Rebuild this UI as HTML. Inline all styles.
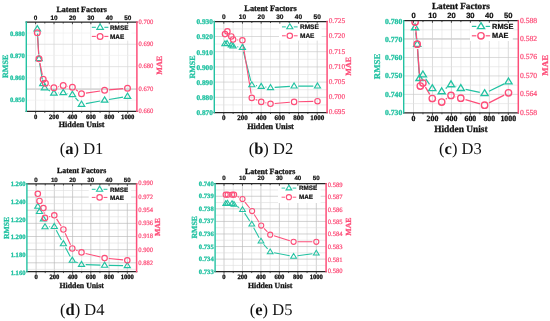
<!DOCTYPE html>
<html lang="en"><head><meta charset="utf-8"><title>Figure</title>
<style>
html,body{margin:0;padding:0;background:#fff;}
body{width:550px;height:321px;overflow:hidden;}
svg{display:block;}
text{text-rendering:geometricPrecision;}
.ser{font-family:"Liberation Serif","Times New Roman",serif;font-weight:bold;stroke-width:0.28;}
.san{font-family:"Liberation Sans",Arial,sans-serif;font-weight:bold;fill:#111;stroke:#111;stroke-width:0.22;}
.serr{font-family:"Liberation Serif","Times New Roman",serif;stroke-width:0.22;}
.cap{font-family:"Liberation Serif","Times New Roman",serif;fill:#111;}
.gM{stroke:#c8c8c8;stroke-width:0.65;}
.gMd{stroke:#b8b8b8;stroke-width:0.65;}
.gmd{stroke:#dcdcdc;stroke-width:0.6;}
.gm{stroke:#e0e0e0;stroke-width:0.6;}
.gMa{stroke:#d6d6d6;stroke-width:0.7;}
.gma{stroke:#efefef;stroke-width:0.6;}
</style></head><body>
<svg width="550" height="321" viewBox="0 0 550 321">
<rect width="550" height="321" fill="#fff"/>
<g id="chart-a">
<clipPath id="clip-a"><rect x="26.3" y="22" width="110.6" height="89.4"/></clipPath>
<line x1="35.6" y1="22" x2="35.6" y2="111.4" class="gMa"/>
<line x1="44.81" y1="22" x2="44.81" y2="111.4" class="gma"/>
<line x1="54.02" y1="22" x2="54.02" y2="111.4" class="gMa"/>
<line x1="63.23" y1="22" x2="63.23" y2="111.4" class="gma"/>
<line x1="72.44" y1="22" x2="72.44" y2="111.4" class="gMa"/>
<line x1="81.65" y1="22" x2="81.65" y2="111.4" class="gma"/>
<line x1="90.86" y1="22" x2="90.86" y2="111.4" class="gMa"/>
<line x1="100.07" y1="22" x2="100.07" y2="111.4" class="gma"/>
<line x1="109.28" y1="22" x2="109.28" y2="111.4" class="gMa"/>
<line x1="118.49" y1="22" x2="118.49" y2="111.4" class="gma"/>
<line x1="127.7" y1="22" x2="127.7" y2="111.4" class="gMa"/>
<line x1="26.3" y1="33.09" x2="136.9" y2="33.09" class="gma"/>
<line x1="26.3" y1="44.27" x2="136.9" y2="44.27" class="gMa"/>
<line x1="26.3" y1="55.46" x2="136.9" y2="55.46" class="gma"/>
<line x1="26.3" y1="66.65" x2="136.9" y2="66.65" class="gMa"/>
<line x1="26.3" y1="77.84" x2="136.9" y2="77.84" class="gma"/>
<line x1="26.3" y1="89.03" x2="136.9" y2="89.03" class="gMa"/>
<line x1="26.3" y1="100.21" x2="136.9" y2="100.21" class="gma"/>
<line x1="26.3" y1="89.1" x2="136.9" y2="89.1" stroke="#d2d2d2" stroke-width="1.1"/>
<rect x="91.5" y="22" width="39.9" height="18.6" fill="#fff"/>
<line x1="37.55" y1="33.44" x2="38.75" y2="54.26" stroke="#22c2a2" stroke-width="1.17" clip-path="url(#clip-a)"/>
<line x1="39.69" y1="63.1" x2="42.21" y2="79.2" stroke="#22c2a2" stroke-width="1.17" clip-path="url(#clip-a)"/>
<line x1="48.45" y1="90.04" x2="50.05" y2="90.96" stroke="#22c2a2" stroke-width="1.17" clip-path="url(#clip-a)"/>
<line x1="58.35" y1="92.96" x2="58.75" y2="92.94" stroke="#22c2a2" stroke-width="1.17" clip-path="url(#clip-a)"/>
<line x1="67.56" y1="93.6" x2="68.04" y2="93.7" stroke="#22c2a2" stroke-width="1.17" clip-path="url(#clip-a)"/>
<line x1="75.43" y1="97.86" x2="78.47" y2="101.14" stroke="#22c2a2" stroke-width="1.17" clip-path="url(#clip-a)"/>
<line x1="85.88" y1="103.6" x2="100.22" y2="101" stroke="#22c2a2" stroke-width="1.17" clip-path="url(#clip-a)"/>
<line x1="108.99" y1="99.47" x2="123.11" y2="97.13" stroke="#22c2a2" stroke-width="1.17" clip-path="url(#clip-a)"/>
<line x1="37.59" y1="37.24" x2="38.71" y2="54.26" stroke="#fd4e79" stroke-width="1.17" clip-path="url(#clip-a)"/>
<line x1="39.89" y1="63.06" x2="42.31" y2="74.94" stroke="#fd4e79" stroke-width="1.17" clip-path="url(#clip-a)"/>
<line x1="49.33" y1="85.38" x2="49.97" y2="85.72" stroke="#fd4e79" stroke-width="1.17" clip-path="url(#clip-a)"/>
<line x1="58.23" y1="86.78" x2="58.87" y2="86.62" stroke="#fd4e79" stroke-width="1.17" clip-path="url(#clip-a)"/>
<line x1="67.59" y1="86.36" x2="68.01" y2="86.44" stroke="#fd4e79" stroke-width="1.17" clip-path="url(#clip-a)"/>
<line x1="76" y1="89.81" x2="77.9" y2="91.19" stroke="#fd4e79" stroke-width="1.17" clip-path="url(#clip-a)"/>
<line x1="85.9" y1="93.13" x2="100.2" y2="90.97" stroke="#fd4e79" stroke-width="1.17" clip-path="url(#clip-a)"/>
<line x1="109.03" y1="89.89" x2="123.07" y2="88.61" stroke="#fd4e79" stroke-width="1.17" clip-path="url(#clip-a)"/>
<g clip-path="url(#clip-a)" fill="none">
<path d="M37.3 25.66L40.55 31.01L34.05 31.01Z" stroke="#22c2a2" stroke-width="1.19"/>
<path d="M39 55.36L42.25 60.71L35.75 60.71Z" stroke="#22c2a2" stroke-width="1.19"/>
<path d="M42.9 80.26L46.15 85.61L39.65 85.61Z" stroke="#22c2a2" stroke-width="1.19"/>
<path d="M44.6 84.46L47.85 89.81L41.35 89.81Z" stroke="#22c2a2" stroke-width="1.19"/>
<path d="M53.9 89.86L57.15 95.21L50.65 95.21Z" stroke="#22c2a2" stroke-width="1.19"/>
<path d="M63.2 89.36L66.45 94.71L59.95 94.71Z" stroke="#22c2a2" stroke-width="1.19"/>
<path d="M72.4 91.26L75.65 96.61L69.15 96.61Z" stroke="#22c2a2" stroke-width="1.19"/>
<path d="M81.5 101.06L84.75 106.41L78.25 106.41Z" stroke="#22c2a2" stroke-width="1.19"/>
<path d="M104.6 96.86L107.85 102.21L101.35 102.21Z" stroke="#22c2a2" stroke-width="1.19"/>
<path d="M127.5 93.06L130.75 98.41L124.25 98.41Z" stroke="#22c2a2" stroke-width="1.19"/>
<circle cx="37.3" cy="32.8" r="2.88" stroke="#fd4e79" stroke-width="1.25"/>
<circle cx="39" cy="58.7" r="2.88" stroke="#fd4e79" stroke-width="1.25"/>
<circle cx="43.2" cy="79.3" r="2.88" stroke="#fd4e79" stroke-width="1.25"/>
<circle cx="45.4" cy="83.3" r="2.88" stroke="#fd4e79" stroke-width="1.25"/>
<circle cx="53.9" cy="87.8" r="2.88" stroke="#fd4e79" stroke-width="1.25"/>
<circle cx="63.2" cy="85.6" r="2.88" stroke="#fd4e79" stroke-width="1.25"/>
<circle cx="72.4" cy="87.2" r="2.88" stroke="#fd4e79" stroke-width="1.25"/>
<circle cx="81.5" cy="93.8" r="2.88" stroke="#fd4e79" stroke-width="1.25"/>
<circle cx="104.6" cy="90.3" r="2.88" stroke="#fd4e79" stroke-width="1.25"/>
<circle cx="127.5" cy="88.2" r="2.88" stroke="#fd4e79" stroke-width="1.25"/>
</g>
<line x1="35.6" y1="22" x2="35.6" y2="24.2" stroke="#222" stroke-width="0.8"/>
<line x1="35.6" y1="111.4" x2="35.6" y2="113.6" stroke="#222" stroke-width="0.8"/>
<line x1="44.81" y1="22" x2="44.81" y2="23.5" stroke="#222" stroke-width="0.8"/>
<line x1="44.81" y1="111.4" x2="44.81" y2="112.9" stroke="#222" stroke-width="0.8"/>
<line x1="54.02" y1="22" x2="54.02" y2="24.2" stroke="#222" stroke-width="0.8"/>
<line x1="54.02" y1="111.4" x2="54.02" y2="113.6" stroke="#222" stroke-width="0.8"/>
<line x1="63.23" y1="22" x2="63.23" y2="23.5" stroke="#222" stroke-width="0.8"/>
<line x1="63.23" y1="111.4" x2="63.23" y2="112.9" stroke="#222" stroke-width="0.8"/>
<line x1="72.44" y1="22" x2="72.44" y2="24.2" stroke="#222" stroke-width="0.8"/>
<line x1="72.44" y1="111.4" x2="72.44" y2="113.6" stroke="#222" stroke-width="0.8"/>
<line x1="81.65" y1="22" x2="81.65" y2="23.5" stroke="#222" stroke-width="0.8"/>
<line x1="81.65" y1="111.4" x2="81.65" y2="112.9" stroke="#222" stroke-width="0.8"/>
<line x1="90.86" y1="22" x2="90.86" y2="24.2" stroke="#222" stroke-width="0.8"/>
<line x1="90.86" y1="111.4" x2="90.86" y2="113.6" stroke="#222" stroke-width="0.8"/>
<line x1="100.07" y1="22" x2="100.07" y2="23.5" stroke="#222" stroke-width="0.8"/>
<line x1="100.07" y1="111.4" x2="100.07" y2="112.9" stroke="#222" stroke-width="0.8"/>
<line x1="109.28" y1="22" x2="109.28" y2="24.2" stroke="#222" stroke-width="0.8"/>
<line x1="109.28" y1="111.4" x2="109.28" y2="113.6" stroke="#222" stroke-width="0.8"/>
<line x1="118.49" y1="22" x2="118.49" y2="23.5" stroke="#222" stroke-width="0.8"/>
<line x1="118.49" y1="111.4" x2="118.49" y2="112.9" stroke="#222" stroke-width="0.8"/>
<line x1="127.7" y1="22" x2="127.7" y2="24.2" stroke="#222" stroke-width="0.8"/>
<line x1="127.7" y1="111.4" x2="127.7" y2="113.6" stroke="#222" stroke-width="0.8"/>
<line x1="25.6" y1="22" x2="137.6" y2="22" stroke="#262626" stroke-width="1.25"/>
<line x1="25.6" y1="111.4" x2="137.6" y2="111.4" stroke="#262626" stroke-width="1.25"/>
<line x1="26.3" y1="21.3" x2="26.3" y2="112.1" stroke="#22c2a2" stroke-width="1.4"/>
<line x1="136.9" y1="21.3" x2="136.9" y2="112.1" stroke="#fd4e79" stroke-width="1.5"/>
<text x="24.9" y="36.01" class="ser" text-anchor="end" font-size="6.6" fill="#22c2a2" stroke="#22c2a2">0.880</text>
<text x="24.9" y="58.11" class="ser" text-anchor="end" font-size="6.6" fill="#22c2a2" stroke="#22c2a2">0.870</text>
<text x="24.9" y="80.01" class="ser" text-anchor="end" font-size="6.6" fill="#22c2a2" stroke="#22c2a2">0.860</text>
<text x="24.9" y="102.11" class="ser" text-anchor="end" font-size="6.6" fill="#22c2a2" stroke="#22c2a2">0.850</text>
<text x="138.5" y="23.71" class="serr" font-size="6.6" fill="#fd4e79" stroke="#fd4e79">0.700</text>
<text x="138.5" y="45.91" class="serr" font-size="6.6" fill="#fd4e79" stroke="#fd4e79">0.690</text>
<text x="138.5" y="68.21" class="serr" font-size="6.6" fill="#fd4e79" stroke="#fd4e79">0.680</text>
<text x="138.5" y="90.91" class="serr" font-size="6.6" fill="#fd4e79" stroke="#fd4e79">0.670</text>
<text x="138.5" y="113.21" class="serr" font-size="6.6" fill="#fd4e79" stroke="#fd4e79">0.660</text>
<text x="35.6" y="19.8" class="san" text-anchor="middle" font-size="6.4">0</text>
<text x="54.02" y="19.8" class="san" text-anchor="middle" font-size="6.4">10</text>
<text x="72.44" y="19.8" class="san" text-anchor="middle" font-size="6.4">20</text>
<text x="90.86" y="19.8" class="san" text-anchor="middle" font-size="6.4">30</text>
<text x="109.28" y="19.8" class="san" text-anchor="middle" font-size="6.4">40</text>
<text x="127.7" y="19.8" class="san" text-anchor="middle" font-size="6.4">50</text>
<text x="35.6" y="118.81" class="ser" text-anchor="middle" font-size="6.6" fill="#111" stroke="#111">0</text>
<text x="54.02" y="118.81" class="ser" text-anchor="middle" font-size="6.6" fill="#111" stroke="#111">200</text>
<text x="72.44" y="118.81" class="ser" text-anchor="middle" font-size="6.6" fill="#111" stroke="#111">400</text>
<text x="90.86" y="118.81" class="ser" text-anchor="middle" font-size="6.6" fill="#111" stroke="#111">600</text>
<text x="109.28" y="118.81" class="ser" text-anchor="middle" font-size="6.6" fill="#111" stroke="#111">800</text>
<text x="127.7" y="118.81" class="ser" text-anchor="middle" font-size="6.6" fill="#111" stroke="#111">1000</text>
<text x="81.65" y="12.38" class="ser" text-anchor="middle" font-size="8.0" fill="#111" stroke="#111">Latent Factors</text>
<text x="81.65" y="126.98" class="ser" text-anchor="middle" font-size="8.0" fill="#111" stroke="#111">Hidden Unist</text>
<text transform="translate(5.2 66.3) rotate(-90)" y="2.71" class="ser" text-anchor="middle" font-size="8.1" fill="#22c2a2" stroke="#22c2a2">RMSE</text>
<text transform="translate(159.4 65.3) rotate(-90)" y="2.71" class="ser" text-anchor="middle" font-size="8.1" fill="#fd4e79" stroke="#fd4e79">MAE</text>
<line x1="91.83" y1="27.3" x2="95.86" y2="27.3" stroke="#22c2a2" stroke-width="1.06"/>
<line x1="104.34" y1="27.3" x2="108.37" y2="27.3" stroke="#22c2a2" stroke-width="1.06"/>
<line x1="91.83" y1="36.4" x2="95.86" y2="36.4" stroke="#fd4e79" stroke-width="1.06"/>
<line x1="104.34" y1="36.4" x2="108.37" y2="36.4" stroke="#fd4e79" stroke-width="1.06"/>
<path d="M100.1 23.96L103.35 29.31L96.85 29.31Z" fill="none" stroke="#22c2a2" stroke-width="1.19"/>
<circle cx="100.1" cy="36.4" r="2.88" fill="none" stroke="#fd4e79" stroke-width="1.25"/>
<text x="110" y="29.6" class="san" font-size="6.4">RMSE</text>
<text x="110" y="38.7" class="san" font-size="6.4">MAE</text>
<text x="81.6" y="153.72" class="cap" text-anchor="middle" font-size="16.5">(<tspan font-weight="bold">a</tspan>) D1</text>
</g>
<g id="chart-b">
<clipPath id="clip-b"><rect x="214.3" y="21.5" width="112.8" height="91"/></clipPath>
<line x1="223.8" y1="21.5" x2="223.8" y2="112.5" class="gM"/>
<line x1="233.14" y1="21.5" x2="233.14" y2="112.5" class="gm"/>
<line x1="242.48" y1="21.5" x2="242.48" y2="112.5" class="gM"/>
<line x1="251.82" y1="21.5" x2="251.82" y2="112.5" class="gm"/>
<line x1="261.16" y1="21.5" x2="261.16" y2="112.5" class="gM"/>
<line x1="270.5" y1="21.5" x2="270.5" y2="112.5" class="gm"/>
<line x1="279.84" y1="21.5" x2="279.84" y2="112.5" class="gM"/>
<line x1="289.18" y1="21.5" x2="289.18" y2="112.5" class="gm"/>
<line x1="298.52" y1="21.5" x2="298.52" y2="112.5" class="gM"/>
<line x1="307.86" y1="21.5" x2="307.86" y2="112.5" class="gm"/>
<line x1="317.2" y1="21.5" x2="317.2" y2="112.5" class="gM"/>
<line x1="214.3" y1="28.9" x2="327.1" y2="28.9" class="gm"/>
<line x1="214.3" y1="36.5" x2="327.1" y2="36.5" class="gM"/>
<line x1="214.3" y1="44.1" x2="327.1" y2="44.1" class="gm"/>
<line x1="214.3" y1="51.7" x2="327.1" y2="51.7" class="gM"/>
<line x1="214.3" y1="59.3" x2="327.1" y2="59.3" class="gm"/>
<line x1="214.3" y1="66.9" x2="327.1" y2="66.9" class="gM"/>
<line x1="214.3" y1="74.5" x2="327.1" y2="74.5" class="gm"/>
<line x1="214.3" y1="82.1" x2="327.1" y2="82.1" class="gM"/>
<line x1="214.3" y1="89.7" x2="327.1" y2="89.7" class="gm"/>
<line x1="214.3" y1="97.3" x2="327.1" y2="97.3" class="gM"/>
<line x1="214.3" y1="104.9" x2="327.1" y2="104.9" class="gm"/>
<rect x="279" y="21.5" width="42.6" height="19.1" fill="#fff"/>
<line x1="237.25" y1="46.73" x2="238.25" y2="46.87" stroke="#22c2a2" stroke-width="1.1" clip-path="url(#clip-b)"/>
<line x1="243.42" y1="51.57" x2="250.78" y2="80.83" stroke="#22c2a2" stroke-width="1.1" clip-path="url(#clip-b)"/>
<line x1="255.94" y1="85.6" x2="257.06" y2="85.8" stroke="#22c2a2" stroke-width="1.1" clip-path="url(#clip-b)"/>
<line x1="265.37" y1="87.04" x2="266.33" y2="87.16" stroke="#22c2a2" stroke-width="1.1" clip-path="url(#clip-b)"/>
<line x1="274.69" y1="87.42" x2="289.91" y2="86.38" stroke="#22c2a2" stroke-width="1.1" clip-path="url(#clip-b)"/>
<line x1="298.3" y1="86.1" x2="313.3" y2="86.1" stroke="#22c2a2" stroke-width="1.1" clip-path="url(#clip-b)"/>
<line x1="237.28" y1="39.86" x2="238.22" y2="39.94" stroke="#fd4e79" stroke-width="1.1" clip-path="url(#clip-b)"/>
<line x1="243.08" y1="44.45" x2="251.12" y2="93.75" stroke="#fd4e79" stroke-width="1.1" clip-path="url(#clip-b)"/>
<line x1="255.66" y1="99.54" x2="257.34" y2="100.26" stroke="#fd4e79" stroke-width="1.1" clip-path="url(#clip-b)"/>
<line x1="265.32" y1="102.74" x2="266.38" y2="102.96" stroke="#fd4e79" stroke-width="1.1" clip-path="url(#clip-b)"/>
<line x1="274.69" y1="103.46" x2="289.91" y2="102.24" stroke="#fd4e79" stroke-width="1.1" clip-path="url(#clip-b)"/>
<line x1="298.3" y1="101.77" x2="313.3" y2="101.33" stroke="#fd4e79" stroke-width="1.1" clip-path="url(#clip-b)"/>
<g clip-path="url(#clip-b)" fill="none">
<path d="M224.9 40.75L227.97 45.8L221.83 45.8Z" stroke="#22c2a2" stroke-width="1.12"/>
<path d="M227.1 40.45L230.17 45.5L224.03 45.5Z" stroke="#22c2a2" stroke-width="1.12"/>
<path d="M231.3 41.85L234.37 46.9L228.23 46.9Z" stroke="#22c2a2" stroke-width="1.12"/>
<path d="M233.1 42.95L236.17 48L230.03 48Z" stroke="#22c2a2" stroke-width="1.12"/>
<path d="M242.4 44.35L245.47 49.4L239.33 49.4Z" stroke="#22c2a2" stroke-width="1.12"/>
<path d="M251.8 81.75L254.87 86.8L248.73 86.8Z" stroke="#22c2a2" stroke-width="1.12"/>
<path d="M261.2 83.35L264.27 88.4L258.13 88.4Z" stroke="#22c2a2" stroke-width="1.12"/>
<path d="M270.5 84.55L273.57 89.6L267.43 89.6Z" stroke="#22c2a2" stroke-width="1.12"/>
<path d="M294.1 82.95L297.17 88L291.03 88Z" stroke="#22c2a2" stroke-width="1.12"/>
<path d="M317.5 82.95L320.57 88L314.43 88Z" stroke="#22c2a2" stroke-width="1.12"/>
<circle cx="225" cy="34.1" r="2.72" stroke="#fd4e79" stroke-width="1.18"/>
<circle cx="227.4" cy="31.4" r="2.72" stroke="#fd4e79" stroke-width="1.18"/>
<circle cx="231.3" cy="36.5" r="2.72" stroke="#fd4e79" stroke-width="1.18"/>
<circle cx="233.1" cy="39.5" r="2.72" stroke="#fd4e79" stroke-width="1.18"/>
<circle cx="242.4" cy="40.3" r="2.72" stroke="#fd4e79" stroke-width="1.18"/>
<circle cx="251.8" cy="97.9" r="2.72" stroke="#fd4e79" stroke-width="1.18"/>
<circle cx="261.2" cy="101.9" r="2.72" stroke="#fd4e79" stroke-width="1.18"/>
<circle cx="270.5" cy="103.8" r="2.72" stroke="#fd4e79" stroke-width="1.18"/>
<circle cx="294.1" cy="101.9" r="2.72" stroke="#fd4e79" stroke-width="1.18"/>
<circle cx="317.5" cy="101.2" r="2.72" stroke="#fd4e79" stroke-width="1.18"/>
</g>
<line x1="223.8" y1="21.5" x2="223.8" y2="23.7" stroke="#222" stroke-width="0.8"/>
<line x1="223.8" y1="112.5" x2="223.8" y2="114.7" stroke="#222" stroke-width="0.8"/>
<line x1="233.14" y1="21.5" x2="233.14" y2="23" stroke="#222" stroke-width="0.8"/>
<line x1="233.14" y1="112.5" x2="233.14" y2="114" stroke="#222" stroke-width="0.8"/>
<line x1="242.48" y1="21.5" x2="242.48" y2="23.7" stroke="#222" stroke-width="0.8"/>
<line x1="242.48" y1="112.5" x2="242.48" y2="114.7" stroke="#222" stroke-width="0.8"/>
<line x1="251.82" y1="21.5" x2="251.82" y2="23" stroke="#222" stroke-width="0.8"/>
<line x1="251.82" y1="112.5" x2="251.82" y2="114" stroke="#222" stroke-width="0.8"/>
<line x1="261.16" y1="21.5" x2="261.16" y2="23.7" stroke="#222" stroke-width="0.8"/>
<line x1="261.16" y1="112.5" x2="261.16" y2="114.7" stroke="#222" stroke-width="0.8"/>
<line x1="270.5" y1="21.5" x2="270.5" y2="23" stroke="#222" stroke-width="0.8"/>
<line x1="270.5" y1="112.5" x2="270.5" y2="114" stroke="#222" stroke-width="0.8"/>
<line x1="279.84" y1="21.5" x2="279.84" y2="23.7" stroke="#222" stroke-width="0.8"/>
<line x1="279.84" y1="112.5" x2="279.84" y2="114.7" stroke="#222" stroke-width="0.8"/>
<line x1="289.18" y1="21.5" x2="289.18" y2="23" stroke="#222" stroke-width="0.8"/>
<line x1="289.18" y1="112.5" x2="289.18" y2="114" stroke="#222" stroke-width="0.8"/>
<line x1="298.52" y1="21.5" x2="298.52" y2="23.7" stroke="#222" stroke-width="0.8"/>
<line x1="298.52" y1="112.5" x2="298.52" y2="114.7" stroke="#222" stroke-width="0.8"/>
<line x1="307.86" y1="21.5" x2="307.86" y2="23" stroke="#222" stroke-width="0.8"/>
<line x1="307.86" y1="112.5" x2="307.86" y2="114" stroke="#222" stroke-width="0.8"/>
<line x1="317.2" y1="21.5" x2="317.2" y2="23.7" stroke="#222" stroke-width="0.8"/>
<line x1="317.2" y1="112.5" x2="317.2" y2="114.7" stroke="#222" stroke-width="0.8"/>
<line x1="213.6" y1="21.5" x2="327.8" y2="21.5" stroke="#262626" stroke-width="1.25"/>
<line x1="213.6" y1="112.5" x2="327.8" y2="112.5" stroke="#262626" stroke-width="1.25"/>
<line x1="214.3" y1="20.8" x2="214.3" y2="113.2" stroke="#22c2a2" stroke-width="1.4"/>
<line x1="327.1" y1="20.8" x2="327.1" y2="113.2" stroke="#fd4e79" stroke-width="1.5"/>
<text x="212.9" y="24.25" class="ser" text-anchor="end" font-size="7.3" fill="#22c2a2" stroke="#22c2a2">0.930</text>
<text x="212.9" y="39.43" class="ser" text-anchor="end" font-size="7.3" fill="#22c2a2" stroke="#22c2a2">0.920</text>
<text x="212.9" y="54.61" class="ser" text-anchor="end" font-size="7.3" fill="#22c2a2" stroke="#22c2a2">0.910</text>
<text x="212.9" y="69.79" class="ser" text-anchor="end" font-size="7.3" fill="#22c2a2" stroke="#22c2a2">0.900</text>
<text x="212.9" y="84.97" class="ser" text-anchor="end" font-size="7.3" fill="#22c2a2" stroke="#22c2a2">0.890</text>
<text x="212.9" y="100.15" class="ser" text-anchor="end" font-size="7.3" fill="#22c2a2" stroke="#22c2a2">0.880</text>
<text x="212.9" y="115.33" class="ser" text-anchor="end" font-size="7.3" fill="#22c2a2" stroke="#22c2a2">0.870</text>
<text x="328.7" y="23.35" class="serr" font-size="7.3" fill="#fd4e79" stroke="#fd4e79">0.725</text>
<text x="328.7" y="38.45" class="serr" font-size="7.3" fill="#fd4e79" stroke="#fd4e79">0.720</text>
<text x="328.7" y="53.55" class="serr" font-size="7.3" fill="#fd4e79" stroke="#fd4e79">0.715</text>
<text x="328.7" y="68.65" class="serr" font-size="7.3" fill="#fd4e79" stroke="#fd4e79">0.710</text>
<text x="328.7" y="83.75" class="serr" font-size="7.3" fill="#fd4e79" stroke="#fd4e79">0.705</text>
<text x="328.7" y="98.85" class="serr" font-size="7.3" fill="#fd4e79" stroke="#fd4e79">0.700</text>
<text x="328.7" y="113.95" class="serr" font-size="7.3" fill="#fd4e79" stroke="#fd4e79">0.695</text>
<text x="223.8" y="19.38" class="san" text-anchor="middle" font-size="6.6">0</text>
<text x="242.48" y="19.38" class="san" text-anchor="middle" font-size="6.6">10</text>
<text x="261.16" y="19.38" class="san" text-anchor="middle" font-size="6.6">20</text>
<text x="279.84" y="19.38" class="san" text-anchor="middle" font-size="6.6">30</text>
<text x="298.52" y="19.38" class="san" text-anchor="middle" font-size="6.6">40</text>
<text x="317.2" y="19.38" class="san" text-anchor="middle" font-size="6.6">50</text>
<text x="223.8" y="119.94" class="ser" text-anchor="middle" font-size="7.0" fill="#111" stroke="#111">0</text>
<text x="242.48" y="119.94" class="ser" text-anchor="middle" font-size="7.0" fill="#111" stroke="#111">200</text>
<text x="261.16" y="119.94" class="ser" text-anchor="middle" font-size="7.0" fill="#111" stroke="#111">400</text>
<text x="279.84" y="119.94" class="ser" text-anchor="middle" font-size="7.0" fill="#111" stroke="#111">600</text>
<text x="298.52" y="119.94" class="ser" text-anchor="middle" font-size="7.0" fill="#111" stroke="#111">800</text>
<text x="317.2" y="119.94" class="ser" text-anchor="middle" font-size="7.0" fill="#111" stroke="#111">1000</text>
<text x="270.5" y="10.58" class="ser" text-anchor="middle" font-size="8.3" fill="#111" stroke="#111">Latent Factors</text>
<text x="270.5" y="129.25" class="ser" text-anchor="middle" font-size="8.2" fill="#111" stroke="#111">Hidden Unist</text>
<text transform="translate(191.9 67) rotate(-90)" y="2.68" class="ser" text-anchor="middle" font-size="8.0" fill="#22c2a2" stroke="#22c2a2">RMSE</text>
<text transform="translate(348.2 66.3) rotate(-90)" y="2.68" class="ser" text-anchor="middle" font-size="8.0" fill="#fd4e79" stroke="#fd4e79">MAE</text>
<line x1="282" y1="26.9" x2="285.8" y2="26.9" stroke="#22c2a2" stroke-width="1"/>
<line x1="293.8" y1="26.9" x2="297.6" y2="26.9" stroke="#22c2a2" stroke-width="1"/>
<line x1="282" y1="35.8" x2="285.8" y2="35.8" stroke="#fd4e79" stroke-width="1"/>
<line x1="293.8" y1="35.8" x2="297.6" y2="35.8" stroke="#fd4e79" stroke-width="1"/>
<path d="M289.8 23.75L292.87 28.8L286.73 28.8Z" fill="none" stroke="#22c2a2" stroke-width="1.12"/>
<circle cx="289.8" cy="35.8" r="2.72" fill="none" stroke="#fd4e79" stroke-width="1.18"/>
<text x="300" y="29.24" class="san" font-size="6.5">RMSE</text>
<text x="300" y="38.14" class="san" font-size="6.5">MAE</text>
<text x="270.9" y="153.72" class="cap" text-anchor="middle" font-size="16.5">(<tspan font-weight="bold">b</tspan>) D2</text>
</g>
<g id="chart-c">
<clipPath id="clip-c"><rect x="403.7" y="20.6" width="114.6" height="92.2"/></clipPath>
<line x1="413.5" y1="20.6" x2="413.5" y2="112.8" class="gM"/>
<line x1="422.98" y1="20.6" x2="422.98" y2="112.8" class="gm"/>
<line x1="432.46" y1="20.6" x2="432.46" y2="112.8" class="gM"/>
<line x1="441.94" y1="20.6" x2="441.94" y2="112.8" class="gm"/>
<line x1="451.42" y1="20.6" x2="451.42" y2="112.8" class="gM"/>
<line x1="460.9" y1="20.6" x2="460.9" y2="112.8" class="gm"/>
<line x1="470.38" y1="20.6" x2="470.38" y2="112.8" class="gM"/>
<line x1="479.86" y1="20.6" x2="479.86" y2="112.8" class="gm"/>
<line x1="489.34" y1="20.6" x2="489.34" y2="112.8" class="gM"/>
<line x1="498.82" y1="20.6" x2="498.82" y2="112.8" class="gm"/>
<line x1="508.3" y1="20.6" x2="508.3" y2="112.8" class="gM"/>
<line x1="403.7" y1="29.82" x2="518.3" y2="29.82" class="gm"/>
<line x1="403.7" y1="39.04" x2="518.3" y2="39.04" class="gM"/>
<line x1="403.7" y1="48.26" x2="518.3" y2="48.26" class="gm"/>
<line x1="403.7" y1="57.48" x2="518.3" y2="57.48" class="gM"/>
<line x1="403.7" y1="66.7" x2="518.3" y2="66.7" class="gm"/>
<line x1="403.7" y1="75.92" x2="518.3" y2="75.92" class="gM"/>
<line x1="403.7" y1="85.14" x2="518.3" y2="85.14" class="gm"/>
<line x1="403.7" y1="94.36" x2="518.3" y2="94.36" class="gM"/>
<line x1="403.7" y1="103.58" x2="518.3" y2="103.58" class="gm"/>
<line x1="403.7" y1="38.9" x2="518.3" y2="38.9" stroke="#d2d2d2" stroke-width="1.1"/>
<rect x="470" y="20.6" width="42.8" height="20.4" fill="#fff"/>
<line x1="415.71" y1="32.38" x2="416.59" y2="39.32" stroke="#22c2a2" stroke-width="1.29" clip-path="url(#clip-c)"/>
<line x1="417.53" y1="49.1" x2="419.17" y2="73.4" stroke="#22c2a2" stroke-width="1.29" clip-path="url(#clip-c)"/>
<line x1="425.68" y1="78.75" x2="429.52" y2="84.35" stroke="#22c2a2" stroke-width="1.29" clip-path="url(#clip-c)"/>
<line x1="445.63" y1="88.54" x2="447.07" y2="87.46" stroke="#22c2a2" stroke-width="1.29" clip-path="url(#clip-c)"/>
<line x1="455.58" y1="86.28" x2="456.22" y2="86.52" stroke="#22c2a2" stroke-width="1.29" clip-path="url(#clip-c)"/>
<line x1="465.6" y1="89.33" x2="479.8" y2="92.37" stroke="#22c2a2" stroke-width="1.29" clip-path="url(#clip-c)"/>
<line x1="489.01" y1="91.24" x2="504.09" y2="83.86" stroke="#22c2a2" stroke-width="1.29" clip-path="url(#clip-c)"/>
<line x1="415.56" y1="26.99" x2="416.74" y2="39.31" stroke="#fd4e79" stroke-width="1.29" clip-path="url(#clip-c)"/>
<line x1="417.56" y1="49.1" x2="419.94" y2="81.2" stroke="#fd4e79" stroke-width="1.29" clip-path="url(#clip-c)"/>
<line x1="425.45" y1="87.2" x2="429.75" y2="94.3" stroke="#fd4e79" stroke-width="1.29" clip-path="url(#clip-c)"/>
<line x1="436.89" y1="100.26" x2="437.11" y2="100.34" stroke="#fd4e79" stroke-width="1.29" clip-path="url(#clip-c)"/>
<line x1="445.69" y1="99.23" x2="447.01" y2="98.27" stroke="#fd4e79" stroke-width="1.29" clip-path="url(#clip-c)"/>
<line x1="455.72" y1="96.75" x2="456.08" y2="96.85" stroke="#fd4e79" stroke-width="1.29" clip-path="url(#clip-c)"/>
<line x1="465.51" y1="99.59" x2="479.89" y2="103.81" stroke="#fd4e79" stroke-width="1.29" clip-path="url(#clip-c)"/>
<line x1="488.96" y1="102.94" x2="504.14" y2="95.06" stroke="#fd4e79" stroke-width="1.29" clip-path="url(#clip-c)"/>
<g clip-path="url(#clip-c)" fill="none">
<path d="M415.1 23.81L418.69 29.72L411.51 29.72Z" stroke="#22c2a2" stroke-width="1.31"/>
<path d="M417.2 40.51L420.79 46.42L413.61 46.42Z" stroke="#22c2a2" stroke-width="1.31"/>
<path d="M419.5 74.61L423.09 80.52L415.91 80.52Z" stroke="#22c2a2" stroke-width="1.31"/>
<path d="M422.9 71.01L426.49 76.92L419.31 76.92Z" stroke="#22c2a2" stroke-width="1.31"/>
<path d="M432.3 84.71L435.89 90.62L428.71 90.62Z" stroke="#22c2a2" stroke-width="1.31"/>
<path d="M441.7 87.81L445.29 93.72L438.11 93.72Z" stroke="#22c2a2" stroke-width="1.31"/>
<path d="M451 80.81L454.59 86.72L447.41 86.72Z" stroke="#22c2a2" stroke-width="1.31"/>
<path d="M460.8 84.61L464.39 90.52L457.21 90.52Z" stroke="#22c2a2" stroke-width="1.31"/>
<path d="M484.6 89.71L488.19 95.62L481.01 95.62Z" stroke="#22c2a2" stroke-width="1.31"/>
<path d="M508.5 78.01L512.09 83.92L504.91 83.92Z" stroke="#22c2a2" stroke-width="1.31"/>
<circle cx="415.1" cy="22.1" r="3.18" stroke="#fd4e79" stroke-width="1.38"/>
<circle cx="417.2" cy="44.2" r="3.18" stroke="#fd4e79" stroke-width="1.38"/>
<circle cx="420.3" cy="86.1" r="3.18" stroke="#fd4e79" stroke-width="1.38"/>
<circle cx="422.9" cy="83" r="3.18" stroke="#fd4e79" stroke-width="1.38"/>
<circle cx="432.3" cy="98.5" r="3.18" stroke="#fd4e79" stroke-width="1.38"/>
<circle cx="441.7" cy="102.1" r="3.18" stroke="#fd4e79" stroke-width="1.38"/>
<circle cx="451" cy="95.4" r="3.18" stroke="#fd4e79" stroke-width="1.38"/>
<circle cx="460.8" cy="98.2" r="3.18" stroke="#fd4e79" stroke-width="1.38"/>
<circle cx="484.6" cy="105.2" r="3.18" stroke="#fd4e79" stroke-width="1.38"/>
<circle cx="508.5" cy="92.8" r="3.18" stroke="#fd4e79" stroke-width="1.38"/>
</g>
<line x1="413.5" y1="20.6" x2="413.5" y2="22.8" stroke="#222" stroke-width="0.8"/>
<line x1="413.5" y1="112.8" x2="413.5" y2="115" stroke="#222" stroke-width="0.8"/>
<line x1="422.98" y1="20.6" x2="422.98" y2="22.1" stroke="#222" stroke-width="0.8"/>
<line x1="422.98" y1="112.8" x2="422.98" y2="114.3" stroke="#222" stroke-width="0.8"/>
<line x1="432.46" y1="20.6" x2="432.46" y2="22.8" stroke="#222" stroke-width="0.8"/>
<line x1="432.46" y1="112.8" x2="432.46" y2="115" stroke="#222" stroke-width="0.8"/>
<line x1="441.94" y1="20.6" x2="441.94" y2="22.1" stroke="#222" stroke-width="0.8"/>
<line x1="441.94" y1="112.8" x2="441.94" y2="114.3" stroke="#222" stroke-width="0.8"/>
<line x1="451.42" y1="20.6" x2="451.42" y2="22.8" stroke="#222" stroke-width="0.8"/>
<line x1="451.42" y1="112.8" x2="451.42" y2="115" stroke="#222" stroke-width="0.8"/>
<line x1="460.9" y1="20.6" x2="460.9" y2="22.1" stroke="#222" stroke-width="0.8"/>
<line x1="460.9" y1="112.8" x2="460.9" y2="114.3" stroke="#222" stroke-width="0.8"/>
<line x1="470.38" y1="20.6" x2="470.38" y2="22.8" stroke="#222" stroke-width="0.8"/>
<line x1="470.38" y1="112.8" x2="470.38" y2="115" stroke="#222" stroke-width="0.8"/>
<line x1="479.86" y1="20.6" x2="479.86" y2="22.1" stroke="#222" stroke-width="0.8"/>
<line x1="479.86" y1="112.8" x2="479.86" y2="114.3" stroke="#222" stroke-width="0.8"/>
<line x1="489.34" y1="20.6" x2="489.34" y2="22.8" stroke="#222" stroke-width="0.8"/>
<line x1="489.34" y1="112.8" x2="489.34" y2="115" stroke="#222" stroke-width="0.8"/>
<line x1="498.82" y1="20.6" x2="498.82" y2="22.1" stroke="#222" stroke-width="0.8"/>
<line x1="498.82" y1="112.8" x2="498.82" y2="114.3" stroke="#222" stroke-width="0.8"/>
<line x1="508.3" y1="20.6" x2="508.3" y2="22.8" stroke="#222" stroke-width="0.8"/>
<line x1="508.3" y1="112.8" x2="508.3" y2="115" stroke="#222" stroke-width="0.8"/>
<line x1="403" y1="20.6" x2="519" y2="20.6" stroke="#262626" stroke-width="1.25"/>
<line x1="403" y1="112.8" x2="519" y2="112.8" stroke="#262626" stroke-width="1.25"/>
<line x1="403.7" y1="19.9" x2="403.7" y2="113.5" stroke="#22c2a2" stroke-width="1.4"/>
<line x1="518.3" y1="19.9" x2="518.3" y2="113.5" stroke="#fd4e79" stroke-width="1.5"/>
<text x="402.3" y="23.78" class="ser" text-anchor="end" font-size="7.7" fill="#22c2a2" stroke="#22c2a2">0.780</text>
<text x="402.3" y="41.88" class="ser" text-anchor="end" font-size="7.7" fill="#22c2a2" stroke="#22c2a2">0.770</text>
<text x="402.3" y="60.18" class="ser" text-anchor="end" font-size="7.7" fill="#22c2a2" stroke="#22c2a2">0.760</text>
<text x="402.3" y="78.48" class="ser" text-anchor="end" font-size="7.7" fill="#22c2a2" stroke="#22c2a2">0.750</text>
<text x="402.3" y="96.78" class="ser" text-anchor="end" font-size="7.7" fill="#22c2a2" stroke="#22c2a2">0.740</text>
<text x="402.3" y="115.08" class="ser" text-anchor="end" font-size="7.7" fill="#22c2a2" stroke="#22c2a2">0.730</text>
<text x="519.9" y="22.58" class="serr" font-size="7.7" fill="#fd4e79" stroke="#fd4e79">0.588</text>
<text x="519.9" y="40.98" class="serr" font-size="7.7" fill="#fd4e79" stroke="#fd4e79">0.582</text>
<text x="519.9" y="59.38" class="serr" font-size="7.7" fill="#fd4e79" stroke="#fd4e79">0.576</text>
<text x="519.9" y="77.78" class="serr" font-size="7.7" fill="#fd4e79" stroke="#fd4e79">0.570</text>
<text x="519.9" y="96.18" class="serr" font-size="7.7" fill="#fd4e79" stroke="#fd4e79">0.564</text>
<text x="519.9" y="114.58" class="serr" font-size="7.7" fill="#fd4e79" stroke="#fd4e79">0.558</text>
<text x="413.5" y="17.64" class="san" text-anchor="middle" font-size="7.6">0</text>
<text x="432.46" y="17.64" class="san" text-anchor="middle" font-size="7.6">10</text>
<text x="451.42" y="17.64" class="san" text-anchor="middle" font-size="7.6">20</text>
<text x="470.38" y="17.64" class="san" text-anchor="middle" font-size="7.6">30</text>
<text x="489.34" y="17.64" class="san" text-anchor="middle" font-size="7.6">40</text>
<text x="508.3" y="17.64" class="san" text-anchor="middle" font-size="7.6">50</text>
<text x="413.5" y="121.45" class="ser" text-anchor="middle" font-size="7.9" fill="#111" stroke="#111">0</text>
<text x="432.46" y="121.45" class="ser" text-anchor="middle" font-size="7.9" fill="#111" stroke="#111">200</text>
<text x="451.42" y="121.45" class="ser" text-anchor="middle" font-size="7.9" fill="#111" stroke="#111">400</text>
<text x="470.38" y="121.45" class="ser" text-anchor="middle" font-size="7.9" fill="#111" stroke="#111">600</text>
<text x="489.34" y="121.45" class="ser" text-anchor="middle" font-size="7.9" fill="#111" stroke="#111">800</text>
<text x="508.3" y="121.45" class="ser" text-anchor="middle" font-size="7.9" fill="#111" stroke="#111">1000</text>
<text x="460.9" y="8.88" class="ser" text-anchor="middle" font-size="9.2" fill="#111" stroke="#111">Latent Factors</text>
<text x="460.9" y="132.15" class="ser" text-anchor="middle" font-size="9.4" fill="#111" stroke="#111">Hidden Unist</text>
<text transform="translate(377.4 66.4) rotate(-90)" y="2.98" class="ser" text-anchor="middle" font-size="8.9" fill="#22c2a2" stroke="#22c2a2">RMSE</text>
<text transform="translate(544.6 65.3) rotate(-90)" y="2.98" class="ser" text-anchor="middle" font-size="8.9" fill="#fd4e79" stroke="#fd4e79">MAE</text>
<line x1="471.87" y1="26.4" x2="476.32" y2="26.4" stroke="#22c2a2" stroke-width="1.17"/>
<line x1="485.68" y1="26.4" x2="490.13" y2="26.4" stroke="#22c2a2" stroke-width="1.17"/>
<line x1="471.87" y1="35.8" x2="476.32" y2="35.8" stroke="#fd4e79" stroke-width="1.17"/>
<line x1="485.68" y1="35.8" x2="490.13" y2="35.8" stroke="#fd4e79" stroke-width="1.17"/>
<path d="M481 22.71L484.59 28.62L477.41 28.62Z" fill="none" stroke="#22c2a2" stroke-width="1.31"/>
<circle cx="481" cy="35.8" r="3.18" fill="none" stroke="#fd4e79" stroke-width="1.38"/>
<text x="492.1" y="29.06" class="san" font-size="7.4">RMSE</text>
<text x="492.1" y="38.46" class="san" font-size="7.4">MAE</text>
<text x="460.4" y="153.72" class="cap" text-anchor="middle" font-size="16.5">(<tspan font-weight="bold">c</tspan>) D3</text>
</g>
<g id="chart-d">
<clipPath id="clip-d"><rect x="26.9" y="183.9" width="109.7" height="87.7"/></clipPath>
<line x1="36.1" y1="183.9" x2="36.1" y2="271.6" class="gMd"/>
<line x1="45.22" y1="183.9" x2="45.22" y2="271.6" class="gmd"/>
<line x1="54.34" y1="183.9" x2="54.34" y2="271.6" class="gMd"/>
<line x1="63.46" y1="183.9" x2="63.46" y2="271.6" class="gmd"/>
<line x1="72.58" y1="183.9" x2="72.58" y2="271.6" class="gMd"/>
<line x1="81.7" y1="183.9" x2="81.7" y2="271.6" class="gmd"/>
<line x1="90.82" y1="183.9" x2="90.82" y2="271.6" class="gMd"/>
<line x1="99.94" y1="183.9" x2="99.94" y2="271.6" class="gmd"/>
<line x1="109.06" y1="183.9" x2="109.06" y2="271.6" class="gMd"/>
<line x1="118.18" y1="183.9" x2="118.18" y2="271.6" class="gmd"/>
<line x1="127.3" y1="183.9" x2="127.3" y2="271.6" class="gMd"/>
<line x1="26.9" y1="190.48" x2="136.6" y2="190.48" class="gmd"/>
<line x1="26.9" y1="197.05" x2="136.6" y2="197.05" class="gMd"/>
<line x1="26.9" y1="203.62" x2="136.6" y2="203.62" class="gmd"/>
<line x1="26.9" y1="210.2" x2="136.6" y2="210.2" class="gMd"/>
<line x1="26.9" y1="216.78" x2="136.6" y2="216.78" class="gmd"/>
<line x1="26.9" y1="223.35" x2="136.6" y2="223.35" class="gMd"/>
<line x1="26.9" y1="229.93" x2="136.6" y2="229.93" class="gmd"/>
<line x1="26.9" y1="236.5" x2="136.6" y2="236.5" class="gMd"/>
<line x1="26.9" y1="243.07" x2="136.6" y2="243.07" class="gmd"/>
<line x1="26.9" y1="249.65" x2="136.6" y2="249.65" class="gMd"/>
<line x1="26.9" y1="256.23" x2="136.6" y2="256.23" class="gmd"/>
<line x1="26.9" y1="262.8" x2="136.6" y2="262.8" class="gMd"/>
<line x1="26.9" y1="269.38" x2="136.6" y2="269.38" class="gmd"/>
<rect x="88.7" y="183.9" width="42.4" height="19.1" fill="#fff"/>
<line x1="49.2" y1="226.76" x2="50.1" y2="226.74" stroke="#22c2a2" stroke-width="1.1" clip-path="url(#clip-d)"/>
<line x1="56.26" y1="230.31" x2="61.44" y2="240.09" stroke="#22c2a2" stroke-width="1.1" clip-path="url(#clip-d)"/>
<line x1="65.39" y1="247.5" x2="70.31" y2="256.6" stroke="#22c2a2" stroke-width="1.1" clip-path="url(#clip-d)"/>
<line x1="76.12" y1="262.04" x2="77.68" y2="262.76" stroke="#22c2a2" stroke-width="1.1" clip-path="url(#clip-d)"/>
<line x1="85.7" y1="264.65" x2="100.4" y2="265.15" stroke="#22c2a2" stroke-width="1.1" clip-path="url(#clip-d)"/>
<line x1="108.8" y1="265.37" x2="123.1" y2="265.63" stroke="#22c2a2" stroke-width="1.1" clip-path="url(#clip-d)"/>
<line x1="44.08" y1="212.25" x2="44.32" y2="213.75" stroke="#fd4e79" stroke-width="1.1" clip-path="url(#clip-d)"/>
<line x1="49.04" y1="216.77" x2="50.26" y2="216.43" stroke="#fd4e79" stroke-width="1.1" clip-path="url(#clip-d)"/>
<line x1="56.57" y1="218.84" x2="61.13" y2="225.96" stroke="#fd4e79" stroke-width="1.1" clip-path="url(#clip-d)"/>
<line x1="65.18" y1="233.3" x2="70.52" y2="244.7" stroke="#fd4e79" stroke-width="1.1" clip-path="url(#clip-d)"/>
<line x1="76.17" y1="250.14" x2="77.63" y2="250.76" stroke="#fd4e79" stroke-width="1.1" clip-path="url(#clip-d)"/>
<line x1="85.58" y1="253.41" x2="100.52" y2="257.09" stroke="#fd4e79" stroke-width="1.1" clip-path="url(#clip-d)"/>
<line x1="108.78" y1="258.51" x2="123.12" y2="259.89" stroke="#fd4e79" stroke-width="1.1" clip-path="url(#clip-d)"/>
<g clip-path="url(#clip-d)" fill="none">
<path d="M37.8 203.25L40.87 208.3L34.73 208.3Z" stroke="#22c2a2" stroke-width="1.12"/>
<path d="M39.5 208.45L42.57 213.5L36.43 213.5Z" stroke="#22c2a2" stroke-width="1.12"/>
<path d="M43.4 215.85L46.47 220.9L40.33 220.9Z" stroke="#22c2a2" stroke-width="1.12"/>
<path d="M45 223.75L48.07 228.8L41.93 228.8Z" stroke="#22c2a2" stroke-width="1.12"/>
<path d="M54.3 223.45L57.37 228.5L51.23 228.5Z" stroke="#22c2a2" stroke-width="1.12"/>
<path d="M63.4 240.65L66.47 245.7L60.33 245.7Z" stroke="#22c2a2" stroke-width="1.12"/>
<path d="M72.3 257.15L75.37 262.2L69.23 262.2Z" stroke="#22c2a2" stroke-width="1.12"/>
<path d="M81.5 261.35L84.57 266.4L78.43 266.4Z" stroke="#22c2a2" stroke-width="1.12"/>
<path d="M104.6 262.15L107.67 267.2L101.53 267.2Z" stroke="#22c2a2" stroke-width="1.12"/>
<path d="M127.3 262.55L130.37 267.6L124.23 267.6Z" stroke="#22c2a2" stroke-width="1.12"/>
<circle cx="37.8" cy="193.8" r="2.72" stroke="#fd4e79" stroke-width="1.18"/>
<circle cx="39.5" cy="201" r="2.72" stroke="#fd4e79" stroke-width="1.18"/>
<circle cx="43.4" cy="208.1" r="2.72" stroke="#fd4e79" stroke-width="1.18"/>
<circle cx="45" cy="217.9" r="2.72" stroke="#fd4e79" stroke-width="1.18"/>
<circle cx="54.3" cy="215.3" r="2.72" stroke="#fd4e79" stroke-width="1.18"/>
<circle cx="63.4" cy="229.5" r="2.72" stroke="#fd4e79" stroke-width="1.18"/>
<circle cx="72.3" cy="248.5" r="2.72" stroke="#fd4e79" stroke-width="1.18"/>
<circle cx="81.5" cy="252.4" r="2.72" stroke="#fd4e79" stroke-width="1.18"/>
<circle cx="104.6" cy="258.1" r="2.72" stroke="#fd4e79" stroke-width="1.18"/>
<circle cx="127.3" cy="260.3" r="2.72" stroke="#fd4e79" stroke-width="1.18"/>
</g>
<line x1="36.1" y1="183.9" x2="36.1" y2="186.1" stroke="#222" stroke-width="0.8"/>
<line x1="36.1" y1="271.6" x2="36.1" y2="273.8" stroke="#222" stroke-width="0.8"/>
<line x1="45.22" y1="183.9" x2="45.22" y2="185.4" stroke="#222" stroke-width="0.8"/>
<line x1="45.22" y1="271.6" x2="45.22" y2="273.1" stroke="#222" stroke-width="0.8"/>
<line x1="54.34" y1="183.9" x2="54.34" y2="186.1" stroke="#222" stroke-width="0.8"/>
<line x1="54.34" y1="271.6" x2="54.34" y2="273.8" stroke="#222" stroke-width="0.8"/>
<line x1="63.46" y1="183.9" x2="63.46" y2="185.4" stroke="#222" stroke-width="0.8"/>
<line x1="63.46" y1="271.6" x2="63.46" y2="273.1" stroke="#222" stroke-width="0.8"/>
<line x1="72.58" y1="183.9" x2="72.58" y2="186.1" stroke="#222" stroke-width="0.8"/>
<line x1="72.58" y1="271.6" x2="72.58" y2="273.8" stroke="#222" stroke-width="0.8"/>
<line x1="81.7" y1="183.9" x2="81.7" y2="185.4" stroke="#222" stroke-width="0.8"/>
<line x1="81.7" y1="271.6" x2="81.7" y2="273.1" stroke="#222" stroke-width="0.8"/>
<line x1="90.82" y1="183.9" x2="90.82" y2="186.1" stroke="#222" stroke-width="0.8"/>
<line x1="90.82" y1="271.6" x2="90.82" y2="273.8" stroke="#222" stroke-width="0.8"/>
<line x1="99.94" y1="183.9" x2="99.94" y2="185.4" stroke="#222" stroke-width="0.8"/>
<line x1="99.94" y1="271.6" x2="99.94" y2="273.1" stroke="#222" stroke-width="0.8"/>
<line x1="109.06" y1="183.9" x2="109.06" y2="186.1" stroke="#222" stroke-width="0.8"/>
<line x1="109.06" y1="271.6" x2="109.06" y2="273.8" stroke="#222" stroke-width="0.8"/>
<line x1="118.18" y1="183.9" x2="118.18" y2="185.4" stroke="#222" stroke-width="0.8"/>
<line x1="118.18" y1="271.6" x2="118.18" y2="273.1" stroke="#222" stroke-width="0.8"/>
<line x1="127.3" y1="183.9" x2="127.3" y2="186.1" stroke="#222" stroke-width="0.8"/>
<line x1="127.3" y1="271.6" x2="127.3" y2="273.8" stroke="#222" stroke-width="0.8"/>
<line x1="26.2" y1="183.9" x2="137.3" y2="183.9" stroke="#262626" stroke-width="1.25"/>
<line x1="26.2" y1="271.6" x2="137.3" y2="271.6" stroke="#262626" stroke-width="1.25"/>
<line x1="26.9" y1="183.2" x2="26.9" y2="272.3" stroke="#22c2a2" stroke-width="1.4"/>
<line x1="136.6" y1="183.2" x2="136.6" y2="272.3" stroke="#fd4e79" stroke-width="1.5"/>
<text x="25.5" y="186.41" class="ser" text-anchor="end" font-size="6.6" fill="#22c2a2" stroke="#22c2a2">1.260</text>
<text x="25.5" y="204.06" class="ser" text-anchor="end" font-size="6.6" fill="#22c2a2" stroke="#22c2a2">1.240</text>
<text x="25.5" y="221.71" class="ser" text-anchor="end" font-size="6.6" fill="#22c2a2" stroke="#22c2a2">1.220</text>
<text x="25.5" y="239.36" class="ser" text-anchor="end" font-size="6.6" fill="#22c2a2" stroke="#22c2a2">1.200</text>
<text x="25.5" y="257.01" class="ser" text-anchor="end" font-size="6.6" fill="#22c2a2" stroke="#22c2a2">1.180</text>
<text x="25.5" y="274.66" class="ser" text-anchor="end" font-size="6.6" fill="#22c2a2" stroke="#22c2a2">1.160</text>
<text x="138.2" y="185.31" class="serr" font-size="6.6" fill="#fd4e79" stroke="#fd4e79">0.990</text>
<text x="138.2" y="198.61" class="serr" font-size="6.6" fill="#fd4e79" stroke="#fd4e79">0.972</text>
<text x="138.2" y="211.91" class="serr" font-size="6.6" fill="#fd4e79" stroke="#fd4e79">0.954</text>
<text x="138.2" y="225.21" class="serr" font-size="6.6" fill="#fd4e79" stroke="#fd4e79">0.936</text>
<text x="138.2" y="238.41" class="serr" font-size="6.6" fill="#fd4e79" stroke="#fd4e79">0.918</text>
<text x="138.2" y="251.61" class="serr" font-size="6.6" fill="#fd4e79" stroke="#fd4e79">0.900</text>
<text x="138.2" y="264.71" class="serr" font-size="6.6" fill="#fd4e79" stroke="#fd4e79">0.882</text>
<text x="36.1" y="181.73" class="san" text-anchor="middle" font-size="6.2">0</text>
<text x="54.34" y="181.73" class="san" text-anchor="middle" font-size="6.2">10</text>
<text x="72.58" y="181.73" class="san" text-anchor="middle" font-size="6.2">20</text>
<text x="90.82" y="181.73" class="san" text-anchor="middle" font-size="6.2">30</text>
<text x="109.06" y="181.73" class="san" text-anchor="middle" font-size="6.2">40</text>
<text x="127.3" y="181.73" class="san" text-anchor="middle" font-size="6.2">50</text>
<text x="36.1" y="279.31" class="ser" text-anchor="middle" font-size="6.6" fill="#111" stroke="#111">0</text>
<text x="54.34" y="279.31" class="ser" text-anchor="middle" font-size="6.6" fill="#111" stroke="#111">200</text>
<text x="72.58" y="279.31" class="ser" text-anchor="middle" font-size="6.6" fill="#111" stroke="#111">400</text>
<text x="90.82" y="279.31" class="ser" text-anchor="middle" font-size="6.6" fill="#111" stroke="#111">600</text>
<text x="109.06" y="279.31" class="ser" text-anchor="middle" font-size="6.6" fill="#111" stroke="#111">800</text>
<text x="127.3" y="279.31" class="ser" text-anchor="middle" font-size="6.6" fill="#111" stroke="#111">1000</text>
<text x="81.7" y="173.41" class="ser" text-anchor="middle" font-size="7.8" fill="#111" stroke="#111">Latent Factors</text>
<text x="81.7" y="287.81" class="ser" text-anchor="middle" font-size="7.8" fill="#111" stroke="#111">Hidden Unist</text>
<text transform="translate(6.2 228) rotate(-90)" y="2.58" class="ser" text-anchor="middle" font-size="7.7" fill="#22c2a2" stroke="#22c2a2">RMSE</text>
<text transform="translate(157.8 227) rotate(-90)" y="2.58" class="ser" text-anchor="middle" font-size="7.7" fill="#fd4e79" stroke="#fd4e79">MAE</text>
<line x1="91.8" y1="189.3" x2="95.6" y2="189.3" stroke="#22c2a2" stroke-width="1"/>
<line x1="103.6" y1="189.3" x2="107.4" y2="189.3" stroke="#22c2a2" stroke-width="1"/>
<line x1="91.8" y1="197.4" x2="95.6" y2="197.4" stroke="#fd4e79" stroke-width="1"/>
<line x1="103.6" y1="197.4" x2="107.4" y2="197.4" stroke="#fd4e79" stroke-width="1"/>
<path d="M99.6 186.15L102.67 191.2L96.53 191.2Z" fill="none" stroke="#22c2a2" stroke-width="1.12"/>
<circle cx="99.6" cy="197.4" r="2.72" fill="none" stroke="#fd4e79" stroke-width="1.18"/>
<text x="110" y="191.57" class="san" font-size="6.3">RMSE</text>
<text x="110" y="199.67" class="san" font-size="6.3">MAE</text>
<text x="82.2" y="315.12" class="cap" text-anchor="middle" font-size="16.5">(<tspan font-weight="bold">d</tspan>) D4</text>
</g>
<g id="chart-e">
<clipPath id="clip-e"><rect x="215.1" y="183.6" width="111" height="88"/></clipPath>
<line x1="224" y1="183.6" x2="224" y2="271.6" class="gMd"/>
<line x1="233.23" y1="183.6" x2="233.23" y2="271.6" class="gmd"/>
<line x1="242.46" y1="183.6" x2="242.46" y2="271.6" class="gMd"/>
<line x1="251.69" y1="183.6" x2="251.69" y2="271.6" class="gmd"/>
<line x1="260.92" y1="183.6" x2="260.92" y2="271.6" class="gMd"/>
<line x1="270.15" y1="183.6" x2="270.15" y2="271.6" class="gmd"/>
<line x1="279.38" y1="183.6" x2="279.38" y2="271.6" class="gMd"/>
<line x1="288.61" y1="183.6" x2="288.61" y2="271.6" class="gmd"/>
<line x1="297.84" y1="183.6" x2="297.84" y2="271.6" class="gMd"/>
<line x1="307.07" y1="183.6" x2="307.07" y2="271.6" class="gmd"/>
<line x1="316.3" y1="183.6" x2="316.3" y2="271.6" class="gMd"/>
<line x1="215.1" y1="189.98" x2="326.1" y2="189.98" class="gmd"/>
<line x1="215.1" y1="196.27" x2="326.1" y2="196.27" class="gMd"/>
<line x1="215.1" y1="202.55" x2="326.1" y2="202.55" class="gmd"/>
<line x1="215.1" y1="208.84" x2="326.1" y2="208.84" class="gMd"/>
<line x1="215.1" y1="215.12" x2="326.1" y2="215.12" class="gmd"/>
<line x1="215.1" y1="221.41" x2="326.1" y2="221.41" class="gMd"/>
<line x1="215.1" y1="227.69" x2="326.1" y2="227.69" class="gmd"/>
<line x1="215.1" y1="233.98" x2="326.1" y2="233.98" class="gMd"/>
<line x1="215.1" y1="240.26" x2="326.1" y2="240.26" class="gmd"/>
<line x1="215.1" y1="246.55" x2="326.1" y2="246.55" class="gMd"/>
<line x1="215.1" y1="252.83" x2="326.1" y2="252.83" class="gmd"/>
<line x1="215.1" y1="259.12" x2="326.1" y2="259.12" class="gMd"/>
<line x1="215.1" y1="265.4" x2="326.1" y2="265.4" class="gmd"/>
<rect x="278" y="183.6" width="42.6" height="19.4" fill="#fff"/>
<line x1="237.33" y1="206.52" x2="239.17" y2="207.68" stroke="#22c2a2" stroke-width="1.03" clip-path="url(#clip-e)"/>
<line x1="244.64" y1="213.12" x2="249.66" y2="220.88" stroke="#22c2a2" stroke-width="1.03" clip-path="url(#clip-e)"/>
<line x1="253.67" y1="227.68" x2="259.13" y2="237.82" stroke="#22c2a2" stroke-width="1.03" clip-path="url(#clip-e)"/>
<line x1="263.59" y1="244.28" x2="267.61" y2="248.92" stroke="#22c2a2" stroke-width="1.03" clip-path="url(#clip-e)"/>
<line x1="274.08" y1="252.65" x2="289.72" y2="255.65" stroke="#22c2a2" stroke-width="1.03" clip-path="url(#clip-e)"/>
<line x1="297.51" y1="255.85" x2="312.39" y2="253.75" stroke="#22c2a2" stroke-width="1.03" clip-path="url(#clip-e)"/>
<line x1="237.61" y1="196.5" x2="238.99" y2="197.2" stroke="#fd4e79" stroke-width="1.03" clip-path="url(#clip-e)"/>
<line x1="244.95" y1="202.09" x2="249.65" y2="208.01" stroke="#fd4e79" stroke-width="1.03" clip-path="url(#clip-e)"/>
<line x1="254.2" y1="214.44" x2="259.1" y2="222.26" stroke="#fd4e79" stroke-width="1.03" clip-path="url(#clip-e)"/>
<line x1="263.98" y1="228.41" x2="267.42" y2="231.89" stroke="#fd4e79" stroke-width="1.03" clip-path="url(#clip-e)"/>
<line x1="273.98" y1="235.85" x2="289.82" y2="240.65" stroke="#fd4e79" stroke-width="1.03" clip-path="url(#clip-e)"/>
<line x1="297.55" y1="241.8" x2="312.35" y2="241.8" stroke="#fd4e79" stroke-width="1.03" clip-path="url(#clip-e)"/>
<g clip-path="url(#clip-e)" fill="none">
<path d="M225.7 200.64L228.59 205.39L222.81 205.39Z" stroke="#22c2a2" stroke-width="1.05"/>
<path d="M227.5 200.34L230.39 205.09L224.61 205.09Z" stroke="#22c2a2" stroke-width="1.05"/>
<path d="M232 200.64L234.89 205.39L229.11 205.39Z" stroke="#22c2a2" stroke-width="1.05"/>
<path d="M234 201.44L236.89 206.19L231.11 206.19Z" stroke="#22c2a2" stroke-width="1.05"/>
<path d="M242.5 206.84L245.39 211.59L239.61 211.59Z" stroke="#22c2a2" stroke-width="1.05"/>
<path d="M251.8 221.24L254.69 225.99L248.91 225.99Z" stroke="#22c2a2" stroke-width="1.05"/>
<path d="M261 238.34L263.89 243.09L258.11 243.09Z" stroke="#22c2a2" stroke-width="1.05"/>
<path d="M270.2 248.94L273.09 253.69L267.31 253.69Z" stroke="#22c2a2" stroke-width="1.05"/>
<path d="M293.6 253.44L296.49 258.19L290.71 258.19Z" stroke="#22c2a2" stroke-width="1.05"/>
<path d="M316.3 250.24L319.19 254.99L313.41 254.99Z" stroke="#22c2a2" stroke-width="1.05"/>
<circle cx="225.7" cy="194.7" r="2.56" stroke="#fd4e79" stroke-width="1.11"/>
<circle cx="227.7" cy="194.7" r="2.56" stroke="#fd4e79" stroke-width="1.11"/>
<circle cx="232.2" cy="194.7" r="2.56" stroke="#fd4e79" stroke-width="1.11"/>
<circle cx="234.1" cy="194.7" r="2.56" stroke="#fd4e79" stroke-width="1.11"/>
<circle cx="242.5" cy="199" r="2.56" stroke="#fd4e79" stroke-width="1.11"/>
<circle cx="252.1" cy="211.1" r="2.56" stroke="#fd4e79" stroke-width="1.11"/>
<circle cx="261.2" cy="225.6" r="2.56" stroke="#fd4e79" stroke-width="1.11"/>
<circle cx="270.2" cy="234.7" r="2.56" stroke="#fd4e79" stroke-width="1.11"/>
<circle cx="293.6" cy="241.8" r="2.56" stroke="#fd4e79" stroke-width="1.11"/>
<circle cx="316.3" cy="241.8" r="2.56" stroke="#fd4e79" stroke-width="1.11"/>
</g>
<line x1="224" y1="183.6" x2="224" y2="185.8" stroke="#222" stroke-width="0.8"/>
<line x1="224" y1="271.6" x2="224" y2="273.8" stroke="#222" stroke-width="0.8"/>
<line x1="233.23" y1="183.6" x2="233.23" y2="185.1" stroke="#222" stroke-width="0.8"/>
<line x1="233.23" y1="271.6" x2="233.23" y2="273.1" stroke="#222" stroke-width="0.8"/>
<line x1="242.46" y1="183.6" x2="242.46" y2="185.8" stroke="#222" stroke-width="0.8"/>
<line x1="242.46" y1="271.6" x2="242.46" y2="273.8" stroke="#222" stroke-width="0.8"/>
<line x1="251.69" y1="183.6" x2="251.69" y2="185.1" stroke="#222" stroke-width="0.8"/>
<line x1="251.69" y1="271.6" x2="251.69" y2="273.1" stroke="#222" stroke-width="0.8"/>
<line x1="260.92" y1="183.6" x2="260.92" y2="185.8" stroke="#222" stroke-width="0.8"/>
<line x1="260.92" y1="271.6" x2="260.92" y2="273.8" stroke="#222" stroke-width="0.8"/>
<line x1="270.15" y1="183.6" x2="270.15" y2="185.1" stroke="#222" stroke-width="0.8"/>
<line x1="270.15" y1="271.6" x2="270.15" y2="273.1" stroke="#222" stroke-width="0.8"/>
<line x1="279.38" y1="183.6" x2="279.38" y2="185.8" stroke="#222" stroke-width="0.8"/>
<line x1="279.38" y1="271.6" x2="279.38" y2="273.8" stroke="#222" stroke-width="0.8"/>
<line x1="288.61" y1="183.6" x2="288.61" y2="185.1" stroke="#222" stroke-width="0.8"/>
<line x1="288.61" y1="271.6" x2="288.61" y2="273.1" stroke="#222" stroke-width="0.8"/>
<line x1="297.84" y1="183.6" x2="297.84" y2="185.8" stroke="#222" stroke-width="0.8"/>
<line x1="297.84" y1="271.6" x2="297.84" y2="273.8" stroke="#222" stroke-width="0.8"/>
<line x1="307.07" y1="183.6" x2="307.07" y2="185.1" stroke="#222" stroke-width="0.8"/>
<line x1="307.07" y1="271.6" x2="307.07" y2="273.1" stroke="#222" stroke-width="0.8"/>
<line x1="316.3" y1="183.6" x2="316.3" y2="185.8" stroke="#222" stroke-width="0.8"/>
<line x1="316.3" y1="271.6" x2="316.3" y2="273.8" stroke="#222" stroke-width="0.8"/>
<line x1="214.4" y1="183.6" x2="326.8" y2="183.6" stroke="#262626" stroke-width="1.25"/>
<line x1="214.4" y1="271.6" x2="326.8" y2="271.6" stroke="#262626" stroke-width="1.25"/>
<line x1="215.1" y1="182.9" x2="215.1" y2="272.3" stroke="#22c2a2" stroke-width="1.4"/>
<line x1="326.1" y1="182.9" x2="326.1" y2="272.3" stroke="#fd4e79" stroke-width="1.5"/>
<text x="213.7" y="185.61" class="ser" text-anchor="end" font-size="6.6" fill="#22c2a2" stroke="#22c2a2">0.740</text>
<text x="213.7" y="198.21" class="ser" text-anchor="end" font-size="6.6" fill="#22c2a2" stroke="#22c2a2">0.739</text>
<text x="213.7" y="210.81" class="ser" text-anchor="end" font-size="6.6" fill="#22c2a2" stroke="#22c2a2">0.738</text>
<text x="213.7" y="223.41" class="ser" text-anchor="end" font-size="6.6" fill="#22c2a2" stroke="#22c2a2">0.737</text>
<text x="213.7" y="236.01" class="ser" text-anchor="end" font-size="6.6" fill="#22c2a2" stroke="#22c2a2">0.736</text>
<text x="213.7" y="248.61" class="ser" text-anchor="end" font-size="6.6" fill="#22c2a2" stroke="#22c2a2">0.735</text>
<text x="213.7" y="261.21" class="ser" text-anchor="end" font-size="6.6" fill="#22c2a2" stroke="#22c2a2">0.734</text>
<text x="213.7" y="273.81" class="ser" text-anchor="end" font-size="6.6" fill="#22c2a2" stroke="#22c2a2">0.733</text>
<text x="327.7" y="186.91" class="serr" font-size="6.6" fill="#fd4e79" stroke="#fd4e79">0.589</text>
<text x="327.7" y="199.01" class="serr" font-size="6.6" fill="#fd4e79" stroke="#fd4e79">0.587</text>
<text x="327.7" y="211.71" class="serr" font-size="6.6" fill="#fd4e79" stroke="#fd4e79">0.586</text>
<text x="327.7" y="224.21" class="serr" font-size="6.6" fill="#fd4e79" stroke="#fd4e79">0.585</text>
<text x="327.7" y="236.41" class="serr" font-size="6.6" fill="#fd4e79" stroke="#fd4e79">0.584</text>
<text x="327.7" y="249.01" class="serr" font-size="6.6" fill="#fd4e79" stroke="#fd4e79">0.583</text>
<text x="327.7" y="261.71" class="serr" font-size="6.6" fill="#fd4e79" stroke="#fd4e79">0.581</text>
<text x="327.7" y="273.41" class="serr" font-size="6.6" fill="#fd4e79" stroke="#fd4e79">0.580</text>
<text x="224" y="180.13" class="san" text-anchor="middle" font-size="6.2">0</text>
<text x="242.46" y="180.13" class="san" text-anchor="middle" font-size="6.2">10</text>
<text x="260.92" y="180.13" class="san" text-anchor="middle" font-size="6.2">20</text>
<text x="279.38" y="180.13" class="san" text-anchor="middle" font-size="6.2">30</text>
<text x="297.84" y="180.13" class="san" text-anchor="middle" font-size="6.2">40</text>
<text x="316.3" y="180.13" class="san" text-anchor="middle" font-size="6.2">50</text>
<text x="224" y="279.41" class="ser" text-anchor="middle" font-size="6.6" fill="#111" stroke="#111">0</text>
<text x="242.46" y="279.41" class="ser" text-anchor="middle" font-size="6.6" fill="#111" stroke="#111">200</text>
<text x="260.92" y="279.41" class="ser" text-anchor="middle" font-size="6.6" fill="#111" stroke="#111">400</text>
<text x="279.38" y="279.41" class="ser" text-anchor="middle" font-size="6.6" fill="#111" stroke="#111">600</text>
<text x="297.84" y="279.41" class="ser" text-anchor="middle" font-size="6.6" fill="#111" stroke="#111">800</text>
<text x="316.3" y="279.41" class="ser" text-anchor="middle" font-size="6.6" fill="#111" stroke="#111">1000</text>
<text x="270.15" y="173.78" class="ser" text-anchor="middle" font-size="8.0" fill="#111" stroke="#111">Latent Factors</text>
<text x="270.15" y="287.81" class="ser" text-anchor="middle" font-size="7.8" fill="#111" stroke="#111">Hidden Unist</text>
<text transform="translate(194 227.3) rotate(-90)" y="2.61" class="ser" text-anchor="middle" font-size="7.8" fill="#22c2a2" stroke="#22c2a2">RMSE</text>
<text transform="translate(348.1 226.6) rotate(-90)" y="2.61" class="ser" text-anchor="middle" font-size="7.8" fill="#fd4e79" stroke="#fd4e79">MAE</text>
<line x1="281.57" y1="188.1" x2="285.14" y2="188.1" stroke="#22c2a2" stroke-width="0.94"/>
<line x1="292.66" y1="188.1" x2="296.23" y2="188.1" stroke="#22c2a2" stroke-width="0.94"/>
<line x1="281.57" y1="197.2" x2="285.14" y2="197.2" stroke="#fd4e79" stroke-width="0.94"/>
<line x1="292.66" y1="197.2" x2="296.23" y2="197.2" stroke="#fd4e79" stroke-width="0.94"/>
<path d="M288.9 185.14L291.79 189.89L286.01 189.89Z" fill="none" stroke="#22c2a2" stroke-width="1.05"/>
<circle cx="288.9" cy="197.2" r="2.56" fill="none" stroke="#fd4e79" stroke-width="1.11"/>
<text x="299" y="190.37" class="san" font-size="6.3">RMSE</text>
<text x="299" y="199.47" class="san" font-size="6.3">MAE</text>
<text x="271.1" y="315.12" class="cap" text-anchor="middle" font-size="16.5">(<tspan font-weight="bold">e</tspan>) D5</text>
</g>
</svg>
</body></html>
